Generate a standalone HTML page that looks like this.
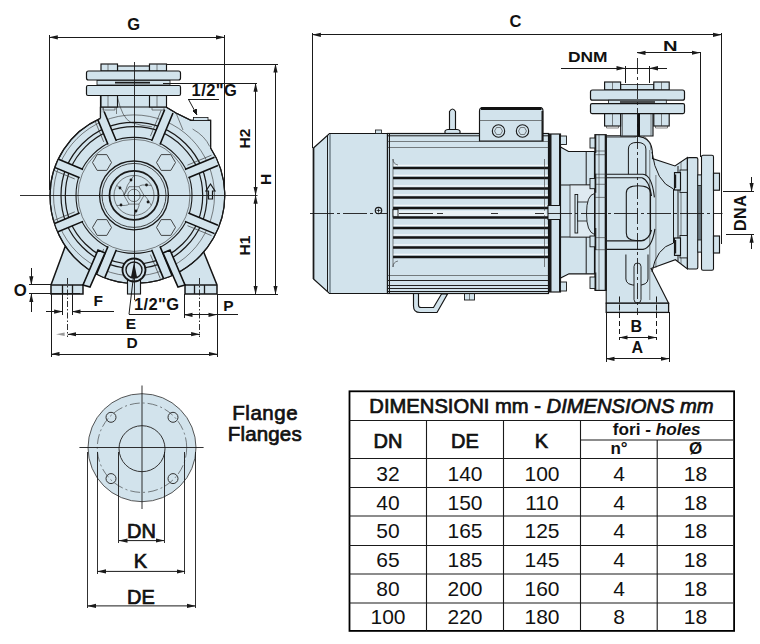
<!DOCTYPE html>
<html><head><meta charset="utf-8">
<style>
html,body{margin:0;padding:0;background:#fff;width:760px;height:644px;overflow:hidden}
svg{display:block}
text{font-family:"Liberation Sans",sans-serif;fill:#111}
.b{font-weight:bold}
.sb{font-weight:normal;stroke:#111;stroke-width:0.7;paint-order:stroke}
.ln{stroke:#1a1a1a;stroke-width:1;fill:none}
.tb{stroke:#1a1a1a;stroke-width:1.2;fill:none}
.fl{fill:#d2e3ec;stroke:#151515;stroke-width:1.15}
.rib{fill:#d2e3ec;stroke:#111;stroke-width:1.6}
.cl{stroke:#222;stroke-width:0.8;fill:none;stroke-dasharray:14 3 2 3}
.thin{stroke:#333;stroke-width:0.6;fill:none}
.ar{fill:#1a1a1a}
</style></head><body>
<svg width="760" height="644" viewBox="0 0 760 644">
<defs>
<marker shape-rendering="auto" id="ae" markerWidth="9" markerHeight="5" refX="8.5" refY="2.5" orient="auto" markerUnits="userSpaceOnUse"><path d="M0,0.4 L9,2.5 L0,4.6 Z" fill="#1a1a1a"/></marker>
<marker shape-rendering="auto" id="as" markerWidth="9" markerHeight="5" refX="0.5" refY="2.5" orient="auto" markerUnits="userSpaceOnUse"><path d="M9,0.4 L0,2.5 L9,4.6 Z" fill="#1a1a1a"/></marker>
</defs>


<!-- ================= FRONT VIEW ================= -->
<g id="front">
<defs><clipPath id="bodyclip"><path d="M100.5,118 V107 H166 L176,113 L191,120.4 H210.6 V148 A90,88 0 0 1 134,283.4 A84,88 0 0 1 50,195.4 A84,84 0 0 1 100.5,118.4 Z"/></clipPath></defs>
<!-- feet -->
<path class="fl" style="stroke-width:1.5" d="M51,294 V285 L65,247 L101,256 L83,285 V294 Z"/>
<path class="fl" style="stroke-width:1.5" d="M217,294 V285 L203.6,251.8 L167,256 L185,285 V294 Z"/>
<path class="ln" style="stroke-width:1.3" d="M51,285H83 M185,285H217 M62.5,285V294 M72.5,285V294 M194.5,285V294 M204.5,285V294"/>
<!-- neck -->
<path class="fl" d="M100.5,95 H166 V120 H100.5 Z"/>
<!-- body -->
<path class="fl" d="M100.5,118 V107 H166 L176,113 L191,120.4 H210.6 V148 A90,88 0 0 1 134,283.4 A84,88 0 0 1 50,195.4 A84,84 0 0 1 100.5,118.4 Z"/>
<path class="thin" d="M117.4,97 Q122,118 131,122.5 Q142,126 152,126.8 M103.3,95V118 M116.5,95V114 M192.6,129 Q205,136 209.7,146.5 M176,113 L183,130"/>
<!-- rings -->
<circle cx="134" cy="195.4" r="80.5" class="thin"/>
<circle cx="134" cy="195.4" r="73" class="ln" style="stroke-width:1.2"/>
<circle cx="134" cy="195.4" r="68.7" class="ln" style="stroke-width:1.2"/>
<circle cx="134" cy="195.4" r="58" class="ln" style="stroke-width:1.1"/>
<circle cx="134" cy="195.4" r="56" class="thin"/>
<!-- ribs -->
<g clip-path="url(#bodyclip)">
<g transform="rotate(22.5 134 195.4)"><rect x="191" y="190.9" width="32" height="9" style="fill:#d2e3ec"/><path style="stroke:#111;stroke-width:1.6;fill:none" d="M191,190.9H223 M191,199.9H223"/><path class="thin" d="M195,202.9H221"/></g>
<g transform="rotate(67.5 134 195.4)"><rect x="191" y="190.9" width="32" height="9" style="fill:#d2e3ec"/><path style="stroke:#111;stroke-width:1.6;fill:none" d="M191,190.9H223 M191,199.9H223"/><path class="thin" d="M195,202.9H221"/></g>
<g transform="rotate(112.5 134 195.4)"><rect x="191" y="190.9" width="32" height="9" style="fill:#d2e3ec"/><path style="stroke:#111;stroke-width:1.6;fill:none" d="M191,190.9H223 M191,199.9H223"/><path class="thin" d="M195,202.9H221"/></g>
<g transform="rotate(157.5 134 195.4)"><rect x="191" y="190.9" width="31" height="9" style="fill:#d2e3ec"/><path style="stroke:#111;stroke-width:1.6;fill:none" d="M191,190.9H222 M191,199.9H222"/><path class="thin" d="M195,202.9H220"/></g>
<g transform="rotate(-22.5 134 195.4)"><rect x="191" y="190.9" width="32" height="9" style="fill:#d2e3ec"/><path style="stroke:#111;stroke-width:1.6;fill:none" d="M191,190.9H223 M191,199.9H223"/><path class="thin" d="M195,187.9H221"/></g>
<g transform="rotate(-67.5 134 195.4)"><rect x="191" y="190.9" width="34" height="9" style="fill:#d2e3ec"/><path style="stroke:#111;stroke-width:1.6;fill:none" d="M191,190.9H225 M191,199.9H225"/><path class="thin" d="M195,187.9H223"/></g>
<g transform="rotate(-112.5 134 195.4)"><rect x="191" y="190.9" width="32" height="9" style="fill:#d2e3ec"/><path style="stroke:#111;stroke-width:1.6;fill:none" d="M191,190.9H223 M191,199.9H223"/><path class="thin" d="M195,187.9H221"/></g>
<g transform="rotate(-157.5 134 195.4)"><rect x="191" y="190.9" width="31" height="9" style="fill:#d2e3ec"/><path style="stroke:#111;stroke-width:1.6;fill:none" d="M191,190.9H222 M191,199.9H222"/><path class="thin" d="M195,187.9H220"/></g>
</g>
<path class="ln" style="stroke-width:1.2" d="M100.5,118 V107 M166,107 L176,113 L191,120.4 H210.6 V148 A90,88 0 0 1 134,283.4 A84,88 0 0 1 50,195.4 A84,84 0 0 1 100.5,118.4"/>
<!-- struts near feet -->
<path class="rib" d="M83,285 L98,250 L105,253 L90,287 Z"/>
<path class="rib" d="M185,285 L170,250 L163,253 L178,287 Z"/>
<!-- hexagon bosses -->
<path class="ln" style="stroke-width:0.9;stroke:#333" d="M92.5,162.5 L97.2,154.6 H106.8 L111.5,162.5 L106.8,170.4 H97.2 Z M156.5,162.5 L161.2,154.6 H170.8 L175.5,162.5 L170.8,170.4 H161.2 Z M92.5,227.5 L97.2,219.6 H106.8 L111.5,227.5 L106.8,235.4 H97.2 Z M156.5,227.5 L161.2,219.6 H170.8 L175.5,227.5 L170.8,235.4 H161.2 Z"/>
<!-- hub -->
<circle cx="134" cy="195.4" r="34.4" class="ln" style="stroke-width:1.3"/>
<circle cx="134" cy="195.4" r="32" class="ln" style="stroke-width:0.8"/>
<circle cx="134" cy="195.4" r="24.5" class="ln" style="stroke-width:1.8"/>
<circle cx="134" cy="195.4" r="20" class="thin"/>
<path class="thin" d="M124,195.4 L129,186.7 H139 L144,195.4 L139,204.1 H129 Z"/>
<circle cx="134" cy="195.4" r="6.2" class="thin"/>
<path class="thin" d="M134,175.4 Q126,185 124,195.4 M151.3,185.4 Q140,184 139,186.7 M151.3,205.4 Q146,196 144,195.4 M134,215.4 Q140,206 139,204.1 M116.7,205.4 Q128,206 129,204.1 M116.7,185.4 Q124,190 124,195.4"/>
<g class="ar"><circle cx="131" cy="180" r="1.4"/><circle cx="146.5" cy="185" r="1.4"/><circle cx="148" cy="202" r="1.4"/><circle cx="136" cy="211" r="1.4"/><circle cx="121" cy="205" r="1.4"/><circle cx="120" cy="188" r="1.4"/></g>
<!-- drain plug -->
<rect x="127.5" y="280" width="13" height="14" class="fl"/>
<circle cx="134" cy="270" r="11.5" class="fl" style="stroke-width:1.8"/>
<circle cx="134" cy="270" r="8" class="ln" style="stroke-width:1.4"/>
<path class="ar" d="M131,277 L134,262 L137,277 Z"/>
<!-- flow arrow -->
<path class="ln" style="stroke-width:1.2" d="M208.5,199 V191 H206 L210.5,184 L215,191 H212.5 V199 Z"/>
<!-- flange assembly -->
<rect x="101" y="95.5" width="16.5" height="11.5" class="fl"/>
<rect x="149.5" y="95.5" width="17" height="11.5" class="fl"/>
<path class="thin" d="M108,95.5V107 M157,95.5V107 M103,107V110H115V107 M152,107V110H164V107"/>
<rect x="117.5" y="66" width="32" height="5" class="fl"/>
<rect x="101" y="64" width="16.5" height="7" class="fl"/>
<rect x="149.5" y="64" width="17" height="7" class="fl"/>
<path class="thin" d="M108,64V71 M157,64V71"/>
<rect x="86.5" y="71" width="94" height="9" rx="2" class="fl" style="stroke-width:1.2"/>
<rect x="97" y="80.5" width="73" height="4.5" class="fl" style="stroke-width:0.8"/>
<path class="ln" style="stroke-width:1.6" d="M115,82.6H150"/>
<rect x="86.5" y="85.5" width="94" height="10" rx="1.5" class="fl" style="stroke-width:1.2"/>
<!-- boss top -->
<rect x="193.5" y="117.4" width="14.5" height="3" class="fl" style="stroke-width:0.8"/>
<!-- centre lines -->
<path class="ln" style="stroke-width:0.9" d="M134.5,62V300 M20,195.5H257.5"/>
<path class="ln" style="stroke-width:0.9;stroke-dasharray:6 2 1.5 2" d="M67.5,278V337 M199.5,278V337"/>
</g>

<!-- ================= SIDE VIEW ================= -->
<g id="side">
<!-- motor foot bracket -->
<path class="fl" d="M413.5,292 V306 Q413.5,312.5 420,312.5 H437 L447.5,294 H441.5 L433.5,307.5 H421 Q418.5,307.5 418.5,305 V292 Z"/>
<rect x="464.5" y="293.5" width="10" height="6.5" class="fl" style="stroke-width:0.9"/>
<path class="thin" d="M469.5,293.5V300"/>
<!-- fan cover -->
<path class="fl" d="M313.5,148 L329.5,133.5 H387.5 V293.5 H329.5 L313.5,279 Z" style="stroke-width:1.2"/>
<path class="ln" style="stroke-width:1.6" d="M313.5,148V279"/>
<path class="ln" d="M327.5,135V292"/><path style="stroke:#8a9aa3;stroke-width:2;fill:none" d="M330,134V293"/>
<circle cx="378.5" cy="210.5" r="3.2" class="ln" style="stroke-width:1.2"/>
<path class="ln" style="stroke-width:0.8" d="M376.5,210.5H380.5 M378.5,208.5V212.5"/>
<rect x="375.5" y="130" width="6" height="3.5" class="fl" style="stroke-width:0.8"/>
<!-- lifting eye -->
<path class="fl" d="M449.5,131 V111.5 Q452.5,106.5 455.5,111.5 V131 Z"/>
<path class="fl" d="M445,133.5 V131 Q446,129.5 448,129.5 H457 Q459,129.5 460,131 V133.5 Z"/>
<!-- motor frame -->
<rect x="387.5" y="133.5" width="161" height="160" class="fl" style="stroke-width:1.2"/>
<path class="thin" d="M387.5,141.5H548.5 M387.5,147.5H548.5 M387.5,275.5H548.5"/><path class="ln" style="stroke-width:1;stroke:#222" d="M387.5,280.5H548.5 M387.5,285.5H548.5 M387.5,288.5H548.5"/>
<path class="ln" style="stroke-width:1" d="M387.5,135.8H548.5 M387.5,291.5H548.5 M389.5,133.5V293.5"/>
<path style="stroke:#f4f8fa;stroke-width:1.2;fill:none" d="M393,165.4H548 M393,175.4H548 M393,185.9H548 M393,194.9H548 M393,205.4H548 M393,214.9H548 M393,225.4H548 M393,234.9H548 M393,244.9H548 M393,254.4H548 "/>
<path style="stroke:#151515;stroke-width:2.6;fill:none" d="M393,168H548 M393,178H548 M393,188.5H548 M393,197.5H548 M393,208H548 M393,217.5H548 M393,228H548 M393,237.5H548 M393,247.5H548 M393,257H548 "/>
<path class="thin" d="M393,159 Q393,164 398,165 M393,267 Q393,262 398,261 M393,159V267 M544.5,159V267"/>
<!-- terminal box -->
<path class="fl" d="M479.5,141 V111 Q479.5,107.5 483,107.5 H540 Q543,107.5 543,111 V141 Z"/>
<path style="stroke:#111;stroke-width:2.6;fill:none" d="M481,108.6H541.5"/>
<path class="ln" style="stroke-width:1.6" d="M542.3,111V141"/>
<path class="thin" d="M479.5,120.5H543"/>
<circle cx="498.5" cy="131" r="6.2" class="ln" style="stroke-width:1.1"/><path class="thin" d="M494.5,131 L496.5,127.5 H500.5 L502.5,131 L500.5,134.5 H496.5 Z"/>
<circle cx="522.5" cy="131" r="6.2" class="ln" style="stroke-width:1.1"/><path class="thin" d="M518.5,131 L520.5,127.5 H524.5 L526.5,131 L524.5,134.5 H520.5 Z"/>
<!-- motor end flange -->
<rect x="549.5" y="134" width="11" height="158" class="fl"/>
<path class="ln" style="stroke-width:2" d="M550.5,134V292 M560,134V292"/>
<rect x="560.5" y="136" width="6" height="8.5" class="fl" style="stroke-width:0.9"/>
<rect x="560.5" y="282" width="6" height="9" class="fl" style="stroke-width:0.9"/>
<rect x="548" y="205.5" width="13" height="14" class="fl" style="stroke-width:1"/>
<path class="fl" d="M560.6,205.5 Q568.5,205.5 568.5,212.5 Q568.5,219.5 560.6,219.5 Z"/>
<!-- lantern -->
<path class="fl" d="M560.5,147 L568.5,151.5 H594.5 V273.8 H569 L560.5,278 Z"/>
<path class="ln" d="M586.2,151.5V185 M586.2,237V273.8 M560.5,185H594.5 M560.5,237H594.5"/>
<rect x="570" y="185" width="24.5" height="52" style="fill:#dfeaf1;stroke:#333;stroke-width:0.8"/>
<rect x="575" y="194.5" width="2.7" height="38.5" class="fl" style="stroke-width:0.9"/>
<rect x="577.7" y="202" width="10.3" height="19" class="fl" style="stroke-width:0.8"/>
<path class="fl" d="M594.5,193.5 Q586.5,195 586.5,213.5 Q586.5,232 594.5,234.5 Z" style="stroke-width:0.9"/>
<!-- casing body -->
<path class="fl" d="M606.2,135.9 H633 Q646,136 650,143 Q653,149 652.5,158.5 L675,166 L687.4,157.6 V269 L675.4,259.7 L651,268.5 L668.6,303.2 H606.2 Z" style="stroke-width:1.1"/>
<path class="thin" d="M606.2,137.3H636 M643,135.8 Q651,140 651,150 M649.8,150V300 M655.9,175V268 M681,162V264"/>
<path class="ln" style="stroke-width:1" d="M652,152 Q656,182 673.5,189 V243 Q656,248 652,272 M678,166V261"/>
<path class="ln" d="M628.4,174.2 V149 Q628.4,142.4 637,142.4 Q645.9,142.4 645.9,149 V175.7"/>
<path class="ln" style="stroke-width:1.1" d="M606.2,174.2 H643 Q652,175 654.4,197.4 M606.2,177.8 H642 Q649,180 651.5,196"/>
<path class="ln" style="stroke-width:1.1" d="M650.5,234 V193 Q650.5,185.8 638,185.8 Q626.3,185.8 626.3,193 V233 Q626.3,240.5 636,240.5 H644"/>
<path class="ln" style="stroke-width:1.1" d="M606.2,249.4 H643 Q652,248 654.9,228.9 M606.2,240.9 H641 Q649,240 651.5,230"/>
<path class="ln" d="M625.9,254.5 V279 Q625.9,285.3 637,285.3 Q648,285.3 648,279 V254.5"/>
<rect x="634" y="263" width="7" height="40" rx="3.5" class="fl" style="stroke-width:0.9"/>
<rect x="606.2" y="303.2" width="62.4" height="9.2" class="fl" style="stroke-width:1.3"/>
<path class="thin" d="M619.5,296V312 M656.5,296V312"/>
<!-- casing left flange band -->
<rect x="595" y="134.7" width="11.2" height="155.7" class="fl"/>
<path class="ln" style="stroke-width:1.8" d="M605.6,134.7V290.4"/>
<path class="thin" d="M595,151H606 M595,154.7H606 M595,174.2H606 M595,177.8H606 M595,184.3H606 M595,197.4H606 M595,237.6H606 M595,249.7H606 M599,134.7V290.4"/>
<path style="stroke:#222;stroke-width:1.6;fill:none" d="M595.5,134V153 M595.5,173.7V192.8 M595.5,228V250 M595.5,272.5V290"/>
<rect x="590" y="138" width="5" height="10" class="fl" style="stroke-width:0.9"/>
<rect x="590" y="178.5" width="5" height="10.2" class="fl" style="stroke-width:0.9"/>
<rect x="590" y="236" width="5" height="10.8" class="fl" style="stroke-width:0.9"/>
<rect x="590" y="277" width="5" height="11.5" class="fl" style="stroke-width:0.9"/>
<!-- suction flanges -->
<rect x="687.4" y="157.6" width="10.4" height="111.4" rx="1.5" class="fl" style="stroke-width:1.1"/>
<rect x="701.5" y="155.2" width="12" height="115" rx="1.5" class="fl" style="stroke-width:1.1"/>
<rect x="697.8" y="175" width="3.5" height="77" style="fill:#6f7e86;stroke:#222;stroke-width:0.8"/>
<rect x="697.8" y="175" width="3.5" height="10.5" class="fl" style="stroke-width:0.8"/>
<rect x="697.8" y="240" width="3.5" height="12" class="fl" style="stroke-width:0.8"/>
<rect x="680" y="170" width="7.3" height="22.4" class="fl" style="stroke-width:0.9"/>
<rect x="674.5" y="172.6" width="6" height="17.4" class="fl"/>
<path class="ln" style="stroke-width:1.8" d="M675.3,174.5V188"/>
<rect x="680" y="235.5" width="7.3" height="22.4" class="fl" style="stroke-width:0.9"/>
<rect x="674.5" y="238" width="6" height="17.4" class="fl"/>
<path class="ln" style="stroke-width:1.8" d="M675.3,240V253.5"/>
<rect x="713.5" y="173.2" width="6" height="17" class="fl"/>
<rect x="713.5" y="236" width="6" height="17" class="fl"/>
<!-- outlet flanges (top) -->
<path class="fl" d="M620.7,113 H653 V136 H620.7 Z"/>
<path style="stroke:#111;stroke-width:3;fill:none" d="M638.5,114V136"/>
<path class="thin" d="M622.5,113V136 M651,113V136"/>
<rect x="604.6" y="112.5" width="16" height="13.5" class="fl"/>
<rect x="653.8" y="112.5" width="15.4" height="13.5" class="fl"/>
<path class="thin" d="M612.5,112.5V126 M661.5,112.5V126 M606.5,126V128H618.5V126 M655.5,126V128H667.5V126"/>
<rect x="620.7" y="84.5" width="33.1" height="5" class="fl" style="stroke-width:0.8"/>
<rect x="604.6" y="82" width="16" height="8" class="fl"/>
<rect x="653.8" y="82" width="15.4" height="8" class="fl"/>
<path class="thin" d="M612.5,82V90 M661.5,82V90"/>
<rect x="590.5" y="90" width="94" height="10.2" rx="2" class="fl" style="stroke-width:1.2"/>
<rect x="608.4" y="100.2" width="57.9" height="3.4" class="fl" style="stroke-width:0.8"/>
<path class="ln" style="stroke-width:1.5" d="M620,101.9H655"/>
<rect x="590.5" y="103.6" width="94" height="10" rx="1.5" class="fl" style="stroke-width:1.2"/>
<!-- centre lines -->
<path class="ln" style="stroke-width:0.9;stroke-dasharray:24 3 3 3" d="M310,213.5H388"/>
<path style="stroke:#e9f1f5;stroke-width:4.5;fill:none" d="M393,213H546"/>
<path class="ln" style="stroke-width:0.9" d="M399,213.5H433 M437,213.5H443 M491,213.5H498 M535,213.5H544"/>
<rect x="393" y="209.5" width="5" height="7.5" style="fill:none;stroke:#222;stroke-width:0.9"/>
<path class="ln" style="stroke-width:0.9;stroke-dasharray:24 3 3 3" d="M548,213.5H722.5"/>
<path class="ln" style="stroke-width:0.9;stroke-dasharray:16 3 3 3" d="M637.5,58V315"/>
</g>

<!-- ================= DIMENSIONS ================= -->
<g id="dims" shape-rendering="crispEdges">
<!-- extension lines -->
<path class="ln" d="M49.3,35V190 M224.9,35V190 M166,64H277.6 M163,83.3H257.3 M217,294.2H278 M29,284.8H51 M29,293.8H80 M62.6,294V315 M72,294V315 M51,294V357 M217,294V357 M184,294V318"/>
<path class="ln" d="M312.4,33V148 M721.5,33V244 M700,51.5V157 M625.5,65.5V83.4 M649,65.5V83.4 M723.3,191.5H753.6 M725.6,234.2H753.6 M606,312V362 M669,312V362"/>
<path class="ln" style="stroke-dasharray:5 3" d="M619,297V340 M656.3,297V340"/>
<!-- G -->
<path class="ln" d="M49.3,37.3H224.5" marker-start="url(#as)" marker-end="url(#ae)"/>
<!-- H, H2, H1 -->
<path class="ln" d="M275.5,64V294.2" marker-start="url(#as)" marker-end="url(#ae)"/>
<path class="ln" d="M255.6,83.3V195.2" marker-start="url(#as)" marker-end="url(#ae)"/>
<path class="ln" d="M255.6,195.2V294.2" marker-start="url(#as)" marker-end="url(#ae)"/>
<!-- O -->
<path class="ln" d="M31.3,268V284.8" marker-end="url(#ae)"/>
<path class="ln" d="M31.3,311.6V293.8" marker-end="url(#ae)"/>
<!-- F -->
<path class="ln" d="M46,311.6H62.6" marker-end="url(#ae)"/>
<path class="ln" d="M114.2,311.6H72" marker-end="url(#ae)"/>
<!-- E -->
<path class="ln" d="M67.7,334.2H199.6" marker-start="url(#as)" marker-end="url(#ae)"/>
<path shape-rendering="auto" d="M56,334.2 L64.6,332.4 V336 Z" fill="#999"/>
<!-- D -->
<path class="ln" d="M51,354H217" marker-start="url(#as)" marker-end="url(#ae)"/>
<!-- P -->
<path class="ln" d="M184,314.8H238" marker-start="url(#as)"/>
<path shape-rendering="auto" d="M217,314.8 L208.5,312.7 V316.9 Z" fill="#1a1a1a"/>
<!-- 1/2"G leaders -->
<path class="ln" d="M188.4,99.2H219"/><path class="ln" shape-rendering="auto" d="M188.4,99.2 L197,115"/>
<path d="M197.6,116.5 L192.6,110.6 L196.4,108.6 Z" fill="#1a1a1a"/>
<path class="ln" d="M129,314.2H170"/><path class="ln" shape-rendering="auto" d="M129,314.2 L134,272"/>
<!-- C -->
<path class="ln" d="M312.4,34.8H721.5" marker-start="url(#as)" marker-end="url(#ae)"/>
<!-- N -->
<path class="ln" d="M637,52.8H700" marker-start="url(#as)" marker-end="url(#ae)"/>
<!-- DNM -->
<path class="ln" d="M561.3,68.3H666.6"/>
<path shape-rendering="auto" d="M625.5,68.3 L616.5,66 V70.6 Z M649,68.3 L658,66 V70.6 Z" fill="#1a1a1a"/>
<!-- DNA -->
<path class="ln" d="M751.6,177V191.5" marker-end="url(#ae)"/>
<path class="ln" d="M751.6,249.3V234.2" marker-end="url(#ae)"/>
<!-- B, A -->
<path class="ln" d="M619,337.5H656.3" marker-start="url(#as)" marker-end="url(#ae)"/>
<path class="ln" d="M606,358.8H669" marker-start="url(#as)" marker-end="url(#ae)"/>
<!-- labels -->
<g class="b" font-size="15.5" text-anchor="middle">
<text x="133.7" y="29.6" font-size="16.5">G</text>
<text x="98.3" y="305.8">F</text>
<text x="131" y="329">E</text>
<text x="132" y="348">D</text>
<text x="228.3" y="310.8">P</text>
<text x="20.2" y="295.6" font-size="16.8">O</text>
<text x="515.5" y="27.3" font-size="16.5">C</text>
<text transform="translate(670.3,50.8) scale(1.3,1)">N</text>
<text transform="translate(587.7,62.4) scale(1.16,1)" font-size="15">DNM</text>
<text x="636.2" y="331.5" font-size="16">B</text>
<text x="637.3" y="353.2" font-size="16">A</text>
<text x="214.4" y="95.6" font-size="16.5" letter-spacing="0.4">1/2"G</text>
<text x="156.8" y="310.2" font-size="16.5" letter-spacing="0.4">1/2"G</text>
<text transform="translate(250,138.5) rotate(-90)">H2</text>
<text transform="translate(270.7,179.5) rotate(-90)">H</text>
<text transform="translate(250,245.5) rotate(-90)">H1</text>
<text transform="translate(745.8,212.8) rotate(-90)" font-size="16" letter-spacing="0.6">DNA</text>
</g>
</g>

<!-- ================= TABLE ================= -->
<g id="table">
<rect x="349.5" y="391.3" width="384.6" height="239.6" class="tb" style="stroke-width:1.8;stroke:#000"/>
<path class="tb" style="stroke-width:1.1" d="M349.5,420.5H733 M580.5,440H733 M349.5,458.5H733 M349.5,487.5H733 M349.5,516H733 M349.5,545.5H733 M349.5,574H733 M349.5,603H733
M426.5,420.5V630.5 M503.5,420.5V630.5 M580.5,420.5V630.5 M657.2,440V630.5"/>
<text x="541.5" y="412.8" text-anchor="middle" class="sb" font-size="20.2">DIMENSIONI mm - <tspan font-style="italic">DIMENSIONS mm</tspan></text>
<g class="sb" font-size="20" text-anchor="middle">
<text x="388" y="447.7">DN</text><text x="465" y="447.7">DE</text><text x="541.5" y="447.7">K</text>
</g>
<text x="656.7" y="435" text-anchor="middle" class="b" font-size="17.2">fori - <tspan font-style="italic">holes</tspan></text>
<text x="619" y="454" text-anchor="middle" class="b" font-size="17">n°</text>
<text x="695.5" y="454" text-anchor="middle" class="b" font-size="17">Ø</text>
<g font-size="21" text-anchor="middle">
<text x="388" y="480.5">32</text><text x="465" y="480.5">140</text><text x="542" y="480.5">100</text><text x="619" y="480.5">4</text><text x="695.5" y="480.5">18</text>
<text x="388" y="509.5">40</text><text x="465" y="509.5">150</text><text x="542" y="509.5">110</text><text x="619" y="509.5">4</text><text x="695.5" y="509.5">18</text>
<text x="388" y="538">50</text><text x="465" y="538">165</text><text x="542" y="538">125</text><text x="619" y="538">4</text><text x="695.5" y="538">18</text>
<text x="388" y="567">65</text><text x="465" y="567">185</text><text x="542" y="567">145</text><text x="619" y="567">4</text><text x="695.5" y="567">18</text>
<text x="388" y="595.5">80</text><text x="465" y="595.5">200</text><text x="542" y="595.5">160</text><text x="619" y="595.5">4</text><text x="695.5" y="595.5">18</text>
<text x="388" y="623.5">100</text><text x="465" y="623.5">220</text><text x="542" y="623.5">180</text><text x="619" y="623.5">8</text><text x="695.5" y="623.5">18</text>
</g>
</g>

<!-- ================= FLANGE DETAIL ================= -->
<g id="flange">
<circle cx="142" cy="447.7" r="54" class="fl" style="stroke:#444;stroke-width:0.9"/>
<circle cx="142" cy="447.7" r="44.7" class="thin" stroke-dasharray="10 3 2 3"/>
<circle cx="142" cy="448.7" r="23" class="ln" style="stroke:#333"/>
<circle cx="111" cy="417.3" r="5" class="ln" style="stroke:#333"/>
<circle cx="173" cy="417.3" r="5" class="ln" style="stroke:#333"/>
<circle cx="111" cy="478.6" r="5" class="ln" style="stroke:#333"/>
<circle cx="173" cy="478.6" r="5" class="ln" style="stroke:#333"/>
<path class="ln" style="stroke-width:0.9" d="M79.4,447.5H203.6 M142,385.5V509"/>
<path class="ln" style="stroke-width:0.9" d="M87.5,452V608 M97.5,452V574 M118.5,452V543 M164.5,452V543 M184.5,452V574 M195.5,452V608"/>
<path class="ln" d="M119,540.6H164" marker-start="url(#as)" marker-end="url(#ae)"/>
<path class="ln" d="M97.5,571.4H185" marker-start="url(#as)" marker-end="url(#ae)"/>
<path class="ln" d="M87.5,605.9H195.5" marker-start="url(#as)" marker-end="url(#ae)"/>
<g class="sb" font-size="20" text-anchor="middle">
<text x="141.5" y="538.2">DN</text><text x="140.5" y="568">K</text><text x="141" y="603.5">DE</text>
</g>
<text x="265.2" y="420.3" text-anchor="middle" class="sb" font-size="20.5" letter-spacing="0.55">Flange</text>
<text x="264.8" y="440.7" text-anchor="middle" class="sb" font-size="20.5" letter-spacing="0.15">Flanges</text>
</g>

</svg>
</body></html>
